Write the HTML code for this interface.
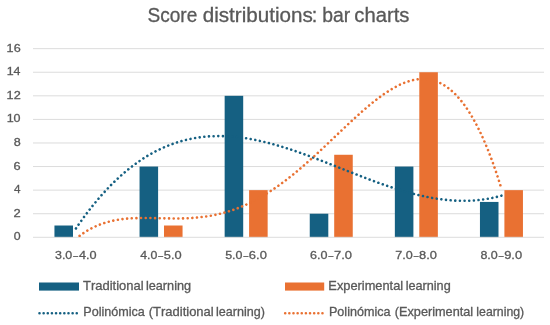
<!DOCTYPE html>
<html><head><meta charset="utf-8"><title>Score distributions: bar charts</title>
<style>
html,body{margin:0;padding:0;background:#fff;}
svg{display:block;}
text{font-family:"Liberation Sans",sans-serif;fill:#595959;stroke:#595959;stroke-width:0.3;font-kerning:none;}
</style></head><body>
<svg width="550" height="325" viewBox="0 0 550 325">
<defs><clipPath id="plot"><rect x="33.4" y="40" width="510.6" height="197.0"/></clipPath></defs>
<rect x="0" y="0" width="550" height="325" fill="#ffffff"/>

<line x1="33.0" x2="544.0" y1="213.72" y2="213.72" stroke="#DCDCDC" stroke-width="1"/>
<line x1="33.0" x2="544.0" y1="190.14" y2="190.14" stroke="#DCDCDC" stroke-width="1"/>
<line x1="33.0" x2="544.0" y1="166.56" y2="166.56" stroke="#DCDCDC" stroke-width="1"/>
<line x1="33.0" x2="544.0" y1="142.98" y2="142.98" stroke="#DCDCDC" stroke-width="1"/>
<line x1="33.0" x2="544.0" y1="119.40" y2="119.40" stroke="#DCDCDC" stroke-width="1"/>
<line x1="33.0" x2="544.0" y1="95.82" y2="95.82" stroke="#DCDCDC" stroke-width="1"/>
<line x1="33.0" x2="544.0" y1="72.24" y2="72.24" stroke="#DCDCDC" stroke-width="1"/>
<line x1="33.0" x2="544.0" y1="48.66" y2="48.66" stroke="#DCDCDC" stroke-width="1"/>
<text y="240.3" font-size="11.8" stroke-width="0.15"><tspan x="13.72" textLength="6.86" lengthAdjust="spacingAndGlyphs">0</tspan></text>
<text y="216.72" font-size="11.8" stroke-width="0.15"><tspan x="13.55" textLength="7.20" lengthAdjust="spacingAndGlyphs">2</tspan></text>
<text y="193.14" font-size="11.8" stroke-width="0.15"><tspan x="13.93" textLength="6.51" lengthAdjust="spacingAndGlyphs">4</tspan></text>
<text y="169.56" font-size="11.8" stroke-width="0.15"><tspan x="13.55" textLength="7.11" lengthAdjust="spacingAndGlyphs">6</tspan></text>
<text y="145.98" font-size="11.8" stroke-width="0.15"><tspan x="13.65" textLength="6.99" lengthAdjust="spacingAndGlyphs">8</tspan></text>
<text y="122.4" font-size="11.8" stroke-width="0.15"><tspan x="6.65" textLength="13.94" lengthAdjust="spacingAndGlyphs">10</tspan></text>
<text y="98.82" font-size="11.8" stroke-width="0.15"><tspan x="6.63" textLength="14.10" lengthAdjust="spacingAndGlyphs">12</tspan></text>
<text y="75.24" font-size="11.8" stroke-width="0.15"><tspan x="6.65" textLength="13.81" lengthAdjust="spacingAndGlyphs">14</tspan></text>
<text y="51.66" font-size="11.8" stroke-width="0.15"><tspan x="6.64" textLength="14.01" lengthAdjust="spacingAndGlyphs">16</tspan></text>
<rect x="54.45" y="225.51" width="18.55" height="11.79" fill="#156082"/>
<rect x="139.55" y="166.56" width="18.55" height="70.74" fill="#156082"/>
<rect x="164.00" y="225.51" width="18.55" height="11.79" fill="#E97132"/>
<rect x="224.65" y="95.82" width="18.55" height="141.48" fill="#156082"/>
<rect x="249.10" y="190.14" width="18.55" height="47.16" fill="#E97132"/>
<rect x="309.75" y="213.72" width="18.55" height="23.58" fill="#156082"/>
<rect x="334.20" y="154.77" width="18.55" height="82.53" fill="#E97132"/>
<rect x="394.85" y="166.56" width="18.55" height="70.74" fill="#156082"/>
<rect x="419.30" y="72.24" width="18.55" height="165.06" fill="#E97132"/>
<rect x="479.95" y="201.93" width="18.55" height="35.37" fill="#156082"/>
<rect x="504.40" y="190.14" width="18.55" height="47.16" fill="#E97132"/>
<line x1="33.0" x2="544.0" y1="237.30" y2="237.30" stroke="#DCDCDC" stroke-width="1"/>
<g clip-path="url(#plot)">
<path d="M75.95,228.41 L78.63,224.52 L81.30,220.73 L83.98,217.04 L86.65,213.45 L89.33,209.95 L92.01,206.55 L94.68,203.24 L97.36,200.03 L100.03,196.91 L102.71,193.88 L105.39,190.95 L108.06,188.10 L110.74,185.34 L113.42,182.67 L116.09,180.09 L118.77,177.59 L121.44,175.18 L124.12,172.85 L126.80,170.60 L129.47,168.43 L132.15,166.35 L134.82,164.34 L137.50,162.42 L140.18,160.57 L142.85,158.79 L145.53,157.10 L148.20,155.47 L150.88,153.92 L153.56,152.45 L156.23,151.04 L158.91,149.71 L161.59,148.44 L164.26,147.24 L166.94,146.11 L169.61,145.05 L172.29,144.05 L174.97,143.12 L177.64,142.25 L180.32,141.44 L182.99,140.69 L185.67,140.00 L188.35,139.37 L191.02,138.80 L193.70,138.29 L196.37,137.83 L199.05,137.43 L201.73,137.09 L204.40,136.79 L207.08,136.55 L209.76,136.36 L212.43,136.22 L215.11,136.13 L217.78,136.08 L220.46,136.08 L223.14,136.13 L225.81,136.23 L228.49,136.36 L231.16,136.54 L233.84,136.77 L236.52,137.03 L239.19,137.33 L241.87,137.68 L244.54,138.06 L247.22,138.47 L249.90,138.92 L252.57,139.41 L255.25,139.93 L257.92,140.49 L260.60,141.07 L263.28,141.69 L265.95,142.33 L268.63,143.01 L271.31,143.71 L273.98,144.44 L276.66,145.19 L279.33,145.97 L282.01,146.77 L284.69,147.60 L287.36,148.44 L290.04,149.31 L292.71,150.20 L295.39,151.10 L298.07,152.02 L300.74,152.96 L303.42,153.92 L306.09,154.88 L308.77,155.87 L311.45,156.86 L314.12,157.87 L316.80,158.88 L319.48,159.91 L322.15,160.94 L324.83,161.98 L327.50,163.03 L330.18,164.08 L332.86,165.14 L335.53,166.19 L338.21,167.26 L340.88,168.32 L343.56,169.38 L346.24,170.44 L348.91,171.50 L351.59,172.56 L354.26,173.61 L356.94,174.66 L359.62,175.70 L362.29,176.74 L364.97,177.77 L367.64,178.79 L370.32,179.79 L373.00,180.79 L375.67,181.78 L378.35,182.75 L381.03,183.70 L383.70,184.65 L386.38,185.57 L389.05,186.48 L391.73,187.37 L394.41,188.25 L397.08,189.10 L399.76,189.93 L402.43,190.73 L405.11,191.52 L407.79,192.28 L410.46,193.02 L413.14,193.72 L415.81,194.40 L418.49,195.06 L421.17,195.68 L423.84,196.27 L426.52,196.84 L429.20,197.37 L431.87,197.86 L434.55,198.32 L437.22,198.75 L439.90,199.14 L442.58,199.49 L445.25,199.80 L447.93,200.07 L450.60,200.31 L453.28,200.50 L455.96,200.65 L458.63,200.75 L461.31,200.81 L463.98,200.83 L466.66,200.79 L469.34,200.71 L472.01,200.59 L474.69,200.41 L477.37,200.18 L480.04,199.90 L482.72,199.56 L485.39,199.18 L488.07,198.73 L490.75,198.23 L493.42,197.68 L496.10,197.07 L498.77,196.39 L501.45,195.66" fill="none" stroke="#156082" stroke-width="2.6" stroke-linecap="round" stroke-dasharray="0.01 4.65"/>
<path d="M75.95,238.75 L78.63,236.59 L81.30,234.60 L83.98,232.75 L86.65,231.05 L89.33,229.49 L92.01,228.06 L94.68,226.75 L97.36,225.56 L100.03,224.49 L102.71,223.52 L105.39,222.65 L108.06,221.88 L110.74,221.20 L113.42,220.60 L116.09,220.07 L118.77,219.63 L121.44,219.24 L124.12,218.92 L126.80,218.66 L129.47,218.45 L132.15,218.28 L134.82,218.16 L137.50,218.07 L140.18,218.02 L142.85,217.99 L145.53,217.99 L148.20,218.01 L150.88,218.05 L153.56,218.10 L156.23,218.15 L158.91,218.21 L161.59,218.27 L164.26,218.33 L166.94,218.38 L169.61,218.42 L172.29,218.44 L174.97,218.45 L177.64,218.45 L180.32,218.41 L182.99,218.36 L185.67,218.28 L188.35,218.16 L191.02,218.01 L193.70,217.83 L196.37,217.61 L199.05,217.36 L201.73,217.05 L204.40,216.71 L207.08,216.32 L209.76,215.89 L212.43,215.40 L215.11,214.87 L217.78,214.28 L220.46,213.64 L223.14,212.95 L225.81,212.20 L228.49,211.40 L231.16,210.54 L233.84,209.62 L236.52,208.64 L239.19,207.61 L241.87,206.52 L244.54,205.36 L247.22,204.15 L249.90,202.88 L252.57,201.55 L255.25,200.16 L257.92,198.71 L260.60,197.20 L263.28,195.64 L265.95,194.02 L268.63,192.34 L271.31,190.60 L273.98,188.81 L276.66,186.96 L279.33,185.07 L282.01,183.12 L284.69,181.12 L287.36,179.07 L290.04,176.97 L292.71,174.83 L295.39,172.65 L298.07,170.42 L300.74,168.15 L303.42,165.85 L306.09,163.51 L308.77,161.14 L311.45,158.74 L314.12,156.30 L316.80,153.85 L319.48,151.37 L322.15,148.87 L324.83,146.35 L327.50,143.82 L330.18,141.28 L332.86,138.74 L335.53,136.19 L338.21,133.64 L340.88,131.09 L343.56,128.55 L346.24,126.02 L348.91,123.51 L351.59,121.02 L354.26,118.55 L356.94,116.11 L359.62,113.70 L362.29,111.32 L364.97,108.99 L367.64,106.71 L370.32,104.47 L373.00,102.30 L375.67,100.18 L378.35,98.13 L381.03,96.15 L383.70,94.25 L386.38,92.43 L389.05,90.70 L391.73,89.07 L394.41,87.53 L397.08,86.10 L399.76,84.78 L402.43,83.58 L405.11,82.51 L407.79,81.56 L410.46,80.75 L413.14,80.09 L415.81,79.58 L418.49,79.22 L421.17,79.03 L423.84,79.01 L426.52,79.17 L429.20,79.51 L431.87,80.05 L434.55,80.79 L437.22,81.74 L439.90,82.90 L442.58,84.29 L445.25,85.91 L447.93,87.76 L450.60,89.87 L453.28,92.24 L455.96,94.86 L458.63,97.77 L461.31,100.95 L463.98,104.42 L466.66,108.20 L469.34,112.28 L472.01,116.68 L474.69,121.40 L477.37,126.46 L480.04,131.87 L482.72,137.63 L485.39,143.75 L488.07,150.25 L490.75,157.13 L493.42,164.40 L496.10,172.08 L498.77,180.17 L501.45,188.69" fill="none" stroke="#E97132" stroke-width="2.6" stroke-linecap="round" stroke-dasharray="0.01 4.65"/>
</g>
<text y="259.2" font-size="11.8" stroke-width="0.15"><tspan x="54.98" textLength="17.31" lengthAdjust="spacingAndGlyphs">3.0</tspan><tspan x="73.25" textLength="4.80" lengthAdjust="spacingAndGlyphs">–</tspan><tspan x="79.01" textLength="17.64" lengthAdjust="spacingAndGlyphs">4.0</tspan></text>
<text y="259.2" font-size="11.8" stroke-width="0.15"><tspan x="140.27" textLength="17.11" lengthAdjust="spacingAndGlyphs">4.0</tspan><tspan x="158.35" textLength="4.80" lengthAdjust="spacingAndGlyphs">–</tspan><tspan x="163.89" textLength="17.87" lengthAdjust="spacingAndGlyphs">5.0</tspan></text>
<text y="259.2" font-size="11.8" stroke-width="0.15"><tspan x="225.15" textLength="17.34" lengthAdjust="spacingAndGlyphs">5.0</tspan><tspan x="243.45" textLength="4.80" lengthAdjust="spacingAndGlyphs">–</tspan><tspan x="248.84" textLength="18.01" lengthAdjust="spacingAndGlyphs">6.0</tspan></text>
<text y="259.2" font-size="11.8" stroke-width="0.15"><tspan x="310.11" textLength="17.48" lengthAdjust="spacingAndGlyphs">6.0</tspan><tspan x="328.55" textLength="4.80" lengthAdjust="spacingAndGlyphs">–</tspan><tspan x="333.94" textLength="18.02" lengthAdjust="spacingAndGlyphs">7.0</tspan></text>
<text y="259.2" font-size="11.8" stroke-width="0.15"><tspan x="395.21" textLength="17.49" lengthAdjust="spacingAndGlyphs">7.0</tspan><tspan x="413.65" textLength="4.80" lengthAdjust="spacingAndGlyphs">–</tspan><tspan x="419.14" textLength="17.91" lengthAdjust="spacingAndGlyphs">8.0</tspan></text>
<text y="259.2" font-size="11.8" stroke-width="0.15"><tspan x="480.41" textLength="17.38" lengthAdjust="spacingAndGlyphs">8.0</tspan><tspan x="498.75" textLength="4.80" lengthAdjust="spacingAndGlyphs">–</tspan><tspan x="504.19" textLength="17.96" lengthAdjust="spacingAndGlyphs">9.0</tspan></text>
<text y="21.6" font-size="19.4" stroke-width="0"><tspan x="147.53" textLength="49.81" lengthAdjust="spacingAndGlyphs">Score</tspan> <tspan x="202.73" textLength="110.01" lengthAdjust="spacingAndGlyphs">distributions</tspan><tspan x="311.68" textLength="5.54" lengthAdjust="spacingAndGlyphs">:</tspan> <tspan x="322.15" textLength="27.97" lengthAdjust="spacingAndGlyphs">bar</tspan> <tspan x="354.34" textLength="55.09" lengthAdjust="spacingAndGlyphs">charts</tspan></text>
<rect x="39" y="282.5" width="40" height="8.1" fill="#156082"/>
<text y="290.0" font-size="12.2"><tspan x="83.11" textLength="60.46" lengthAdjust="spacingAndGlyphs">Traditional</tspan> <tspan x="145.94" textLength="45.17" lengthAdjust="spacingAndGlyphs">learning</tspan></text>
<rect x="285" y="282.5" width="39.2" height="8.1" fill="#E97132"/>
<text y="290.0" font-size="12.2"><tspan x="328.35" textLength="74.81" lengthAdjust="spacingAndGlyphs">Experimental</tspan> <tspan x="405.65" textLength="45.07" lengthAdjust="spacingAndGlyphs">learning</tspan></text>
<path d="M39.5,313.3 L77.5,313.3" fill="none" stroke="#156082" stroke-width="2.6" stroke-linecap="round" stroke-dasharray="0.01 4.13"/>
<text y="316.3" font-size="12.2"><tspan x="83.27" textLength="61.63" lengthAdjust="spacingAndGlyphs">Polinómica</tspan> <tspan x="148.80" textLength="64.87" lengthAdjust="spacingAndGlyphs">(Traditional</tspan> <tspan x="216.05" textLength="48.93" lengthAdjust="spacingAndGlyphs">learning)</tspan></text>
<path d="M285.2,313.3 L323.2,313.3" fill="none" stroke="#E97132" stroke-width="2.6" stroke-linecap="round" stroke-dasharray="0.01 4.13"/>
<text y="316.3" font-size="12.2"><tspan x="328.97" textLength="61.53" lengthAdjust="spacingAndGlyphs">Polinómica</tspan> <tspan x="394.81" textLength="78.34" lengthAdjust="spacingAndGlyphs">(Experimental</tspan> <tspan x="476.37" textLength="47.79" lengthAdjust="spacingAndGlyphs">learning)</tspan></text>
</svg></body></html>
